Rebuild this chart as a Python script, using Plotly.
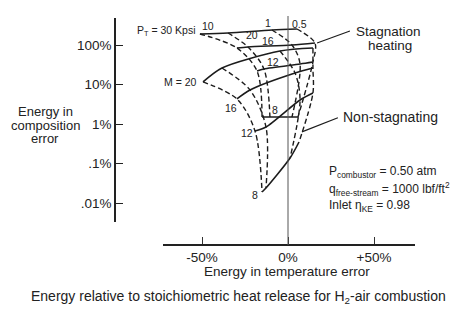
import plotly.graph_objects as go

W, H = 474, 318

# ---------------- data ----------------
mach = [20, 16, 12, 8]            # solid lines (constant Mach)
pt_kpsi = [30, 10, 1, 0.5]        # dashed lines (constant P_T)

# Stagnation heating carpet: rows = Mach, cols = P_T
stag_temp = [[-51.2, -34.9, -9.3, 5.2],
             [-29.7, -23.3, 2.3, 15.7],
             [-18.0, -14.0, 7.0, 14.5],
             [-15.1, -10.5, 2.3, 5.8]]
stag_comp = [[190, 201, 240, 254],
             [84, 89, 100, 112],
             [22, 24.7, 33, 37],
             [1.5, 1.5, 1.5, 1.5]]

# Non-stagnating carpet
nons_temp = [[-49.4, -38.4, -4.65, 14.5],
             [-29.7, -22.1, 4.1, 14.5],
             [-19.2, -12.8, 7.0, 14.5],
             [-15.1, -12.8, 1.2, 6.4]]
nons_comp = [[11.6, 26.2, 70.5, 84],
             [4.3, 7.26, 19.5, 26.2],
             [0.665, 0.84, 4.06, 6.1],
             [0.019, 0.024, 0.138, 0.35]]

# leader lines for the carpet names
stag_leader_x = [16.9, 36.0]
stag_leader_y = [112, 226]
nons_leader_x = [8.1, 29.0]
nons_leader_y = [0.63, 1.44]

y_tickvals = [100, 10, 1, 0.1, 0.01]
y_ticktext = ["100%", "10%", "1%", ".1%", ".01%"]
x_tickvals = [-50, 0, 50]
x_ticktext = ["-50%", "0%", "+50%"]

INK = "#1c1c1c"

fig = go.Figure()

def add_carpet(tx, cy):
    # solid constant-Mach lines
    for i in range(len(mach)):
        fig.add_trace(go.Scatter(x=tx[i], y=cy[i], mode="lines",
                                 line=dict(color=INK, width=1.6, shape="spline", smoothing=0.8),
                                 hoverinfo="skip"))
    # dashed constant-P_T lines
    for j in range(len(pt_kpsi)):
        fig.add_trace(go.Scatter(x=[tx[i][j] for i in range(len(mach))],
                                 y=[cy[i][j] for i in range(len(mach))],
                                 mode="lines",
                                 line=dict(color=INK, width=1.4, dash="5px,3px",
                                           shape="spline", smoothing=0.9),
                                 hoverinfo="skip"))

add_carpet(stag_temp, stag_comp)
add_carpet(nons_temp, nons_comp)

for lx, ly in ((stag_leader_x, stag_leader_y), (nons_leader_x, nons_leader_y)):
    fig.add_trace(go.Scatter(x=lx, y=ly, mode="lines",
                             line=dict(color=INK, width=1.2), hoverinfo="skip"))

# axis geometry (pixels of the reference picture)
X_L, X_R, X_AX_Y = 163, 415, 245
Y_T, Y_B, Y_AX_X = 18, 222, 115
x0_px, px_per_50 = 288, 86
y100_px, px_per_dec = 45, 39.5

def xval(px):
    return (px - x0_px) * 50.0 / px_per_50

def ylog(py):
    return 2 - (py - y100_px) / px_per_dec

fig.update_layout(
    width=W, height=H, autosize=False,
    margin=dict(l=0, r=0, t=0, b=0, pad=0),
    paper_bgcolor="white", plot_bgcolor="white",
    showlegend=False,
    font=dict(family="Liberation Sans, Arial, sans-serif", size=13, color="#222"),
    xaxis=dict(domain=[X_L / W, X_R / W], anchor="free", position=1 - X_AX_Y / H,
               range=[xval(X_L), xval(X_R)],
               tickmode="array", tickvals=x_tickvals, ticktext=x_ticktext,
               ticks="inside", ticklen=7, tickwidth=1.2, tickcolor="#333",
               showline=True, linecolor="#222", linewidth=1.6,
               showgrid=False, zeroline=False, tickfont=dict(size=13.5)),
    yaxis=dict(type="log", domain=[1 - Y_B / H, 1 - Y_T / H], anchor="free",
               position=Y_AX_X / W,
               range=[ylog(Y_B), ylog(Y_T)],
               tickmode="array", tickvals=y_tickvals, ticktext=y_ticktext,
               ticks="inside", ticklen=7, tickwidth=1.3, tickcolor="#222",
               showline=True, linecolor="#222", linewidth=1.6,
               showgrid=False, zeroline=False, tickfont=dict(size=13.5)),
)

# vertical 0% reference line
fig.add_shape(type="line", xref="x", yref="paper", x0=0, x1=0,
              y0=1 - X_AX_Y / H, y1=1 - 16 / H,
              line=dict(color="#555", width=1))

def ann(text, px, py, xanchor="center", size=13.5, **kw):
    fig.add_annotation(text=text, xref="paper", yref="paper",
                       x=px / W, y=1 - py / H, xanchor=xanchor, yanchor="middle",
                       showarrow=False, font=dict(size=size, color="#222"), **kw)

# curve labels
ann("P<sub>T</sub> = 30 Kpsi", 198, 31, xanchor="right", size=10.5)
ann("10", 208, 26, size=10.5)
ann("1", 268, 23, size=10.5)
ann("0.5", 299, 24, size=10.5)
ann("20", 252, 35, size=10.5)
ann("16", 268, 41, size=10.5)
ann("12", 273, 62, size=10.5)
ann("8", 275, 110, size=10.5)
ann("M = 20", 199, 82, xanchor="right", size=10.5)
ann("16", 231, 108, size=10.5)
ann("12", 247, 133, size=10.5)
ann("8", 255, 195, size=10.5)

ann("Stagnation", 354, 32, xanchor="left", size=13.5)
ann("heating", 390, 46, size=13.5)
ann("Non-stagnating", 341, 117, xanchor="left", size=14)

ann("P<sub>combustor</sub> = 0.50 atm", 327, 172, xanchor="left", size=12)
ann("q<sub>free-stream</sub> = 1000 lbf/ft<sup>2</sup>", 327, 189, xanchor="left", size=12)
ann("Inlet η<sub>KE</sub> = 0.98", 327, 206, xanchor="left", size=12)

# axis titles and caption
ann("Energy in", 45, 111, size=13)
ann("composition", 45, 125, size=13)
ann("error", 45, 138, size=13)
ann("Energy in temperature error", 287, 271, size=13.5)
ann("Energy relative to stoichiometric heat release for H<sub>2</sub>-air combustion",
    238, 297, size=14)

fig.write_html("out.html")
